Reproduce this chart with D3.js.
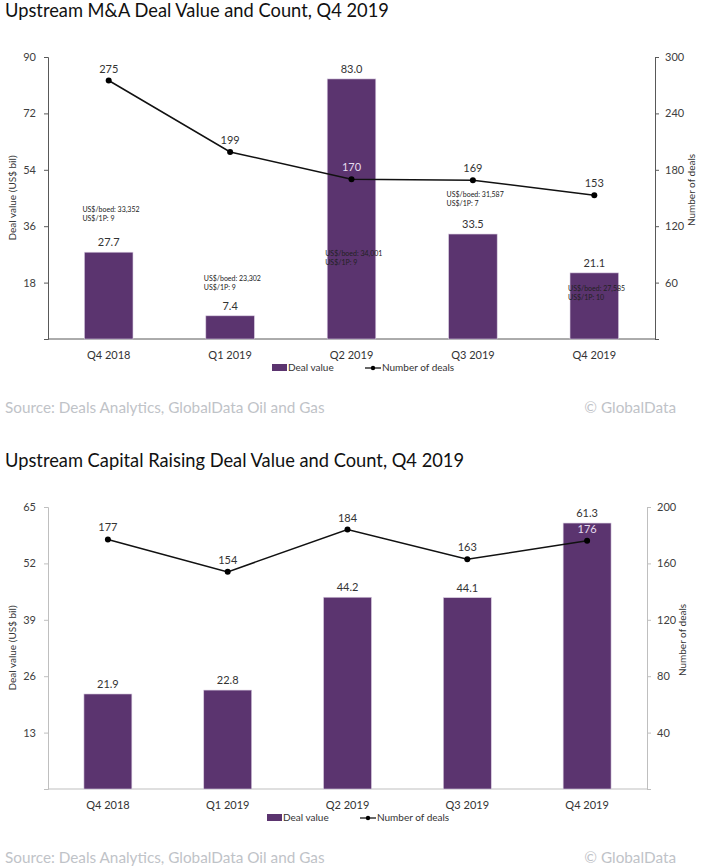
<!DOCTYPE html>
<html>
<head>
<meta charset="utf-8">
<script src="https://cdn.jsdelivr.net/npm/d3@7"></script>
<style>
    body { margin: 0; background: #fff; }
    svg text { font-family: Lato, "Open Sans", sans-serif; }
</style>
</head>
<body>
<div class="container"></div>
<script>
var quarters = ["Q4 2018", "Q1 2019", "Q2 2019", "Q3 2019", "Q4 2019"];

// M&A
var maValue = [27.7, 7.4, 83.0, 33.5, 21.1];
var maCount = [275, 199, 170, 169, 153];
var maBoed = ["33,352", "23,302", "34,001", "31,587", "27,585"];
var ma1P = ["9", "9", "9", "7", "10"];
var maValueTicks = [18, 36, 54, 72, 90];
var maCountTicks = [60, 120, 180, 240, 300];

// capital raising
var crValue = [21.9, 22.8, 44.2, 44.1, 61.3];
var crCount = [177, 154, 184, 163, 176];
var crValueTicks = [13, 26, 39, 52, 65];
var crCountTicks = [40, 80, 120, 160, 200];

// where the small US$/boed notes sit, in deal value units (layout only)
var maNoteAt = [40.5, 18.5, 26.5, 45.3, 15.3];

var WIDTH = 707, HEIGHT = 867;
var BAR_COLOR = '#5b346f';

var svg = d3.select(".container")
    .append("svg")
    .attr("width", WIDTH)
    .attr("height", HEIGHT);

function drawChart(opt) {
    var g = svg.append('g');

    g.append('text')
        .attr('x', 5)
        .attr('y', opt.top - 40)
        .attr('font-size', 18.3)
        .attr('fill', '#111')
        .text(opt.title);

    var x = d3.scaleBand().domain(quarters).range([opt.left, opt.right]).paddingInner(0.6).paddingOuter(0.3);
    var y = d3.scaleLinear().domain([0, opt.valueTicks[opt.valueTicks.length - 1]]).range([opt.bottom, opt.top]);
    var y2 = d3.scaleLinear().domain([0, opt.countTicks[opt.countTicks.length - 1]]).range([opt.bottom, opt.top]);

    // axes
    var leftAxis = g.append('g')
        .attr('transform', 'translate(' + opt.left + ',0)')
        .call(d3.axisLeft(y).tickValues([0].concat(opt.valueTicks)).tickSize(4).tickPadding(8).tickFormat(function (d) { return d === 0 ? '' : d; }));
    var rightAxis = g.append('g')
        .attr('transform', 'translate(' + opt.right + ',0)')
        .call(d3.axisRight(y2).tickValues([0].concat(opt.countTicks)).tickSize(4).tickPadding(6).tickFormat(function (d) { return d === 0 ? '' : d; }));
    [leftAxis, rightAxis].forEach(function (a) {
        a.select('.domain').attr('stroke', opt.axisColor);
        a.selectAll('.tick line').attr('stroke', opt.axisColor);
        a.selectAll('.tick text').attr('fill', '#404040').attr('font-size', 11)
            .style('font-family', 'Lato, sans-serif');
    });

    g.append('line')
        .attr('x1', opt.left).attr('x2', opt.right)
        .attr('y1', opt.bottom).attr('y2', opt.bottom)
        .attr('stroke', opt.axisColor);

    g.selectAll('.cat')
        .data(quarters)
        .enter()
        .append('text')
        .attr('x', function (d) { return x(d) + x.bandwidth() / 2; })
        .attr('y', opt.bottom + 20)
        .attr('text-anchor', 'middle')
        .attr('font-size', 11)
        .attr('fill', '#333')
        .text(function (d) { return d; });

    // axis titles
    g.append('text')
        .attr('transform', 'translate(' + 16 + ',' + (opt.top + opt.bottom) / 2 + ') rotate(-90)')
        .attr('text-anchor', 'middle')
        .attr('font-size', 10)
        .attr('fill', '#333')
        .text('Deal value (US$ bil)');
    g.append('text')
        .attr('transform', 'translate(' + opt.rightTitleX + ',' + ((opt.top + opt.bottom) / 2 - 8) + ') rotate(-90)')
        .attr('text-anchor', 'middle')
        .attr('font-size', 10)
        .attr('fill', '#333')
        .text('Number of deals');

    // bars
    g.selectAll('.bar')
        .data(opt.values)
        .enter()
        .append('rect')
        .attr('x', function (d, i) { return x(quarters[i]); })
        .attr('y', function (d) { return y(d); })
        .attr('width', x.bandwidth())
        .attr('height', function (d) { return opt.bottom - y(d); })
        .attr('fill', BAR_COLOR)
        .attr('stroke', '#d8cce0')
        .attr('stroke-width', 0.6);

    g.selectAll('.bar-label')
        .data(opt.values)
        .enter()
        .append('text')
        .attr('x', function (d, i) { return x(quarters[i]) + x.bandwidth() / 2; })
        .attr('y', function (d) { return y(d) - 6; })
        .attr('text-anchor', 'middle')
        .attr('font-size', 11)
        .attr('fill', '#333')
        .text(function (d) { return d.toFixed(1); });

    // notes
    if (opt.notes) {
        opt.notes.forEach(function (n, i) {
            var t = g.append('text')
                .attr('x', x(quarters[i]) - 2)
                .attr('y', y(opt.noteAt[i]))
                .attr('font-size', 7)
                .attr('fill', '#222');
            t.append('tspan').attr('x', x(quarters[i]) - 2).text('US$/boed: ' + n[0]);
            t.append('tspan').attr('x', x(quarters[i]) - 2).attr('dy', 9).text('US$/1P: ' + n[1]);
        });
    }

    // line
    var line = d3.line()
        .x(function (d, i) { return x(quarters[i]) + x.bandwidth() / 2; })
        .y(function (d) { return y2(d); });

    g.append('path')
        .datum(opt.counts)
        .attr('d', line)
        .attr('fill', 'none')
        .attr('stroke', '#111')
        .attr('stroke-width', 1.5);

    g.selectAll('.dot')
        .data(opt.counts)
        .enter()
        .append('circle')
        .attr('cx', function (d, i) { return x(quarters[i]) + x.bandwidth() / 2; })
        .attr('cy', function (d) { return y2(d); })
        .attr('r', 3)
        .attr('fill', '#000');

    g.selectAll('.count-label')
        .data(opt.counts)
        .enter()
        .append('text')
        .attr('x', function (d, i) { return x(quarters[i]) + x.bandwidth() / 2; })
        .attr('y', function (d) { return y2(d) - 8; })
        .attr('text-anchor', 'middle')
        .attr('font-size', 11)
        .attr('fill', function (d, i) {
            // light text where the label sits on a bar
            return y2(d) - 14 > y(opt.values[i]) ? '#e6dcee' : '#333';
        })
        .text(function (d) { return d; });

    // legend
    var ly = opt.bottom + 29;
    var lx = opt.legendX;
    g.append('rect')
        .attr('x', lx).attr('y', ly - 4)
        .attr('width', 15).attr('height', 7)
        .attr('fill', BAR_COLOR);
    g.append('text')
        .attr('x', lx + 16).attr('y', ly + 3)
        .attr('font-size', 10).attr('fill', '#333')
        .text('Deal value');
    g.append('line')
        .attr('x1', lx + 93).attr('x2', lx + 109)
        .attr('y1', ly).attr('y2', ly)
        .attr('stroke', '#000').attr('stroke-width', 1.2);
    g.append('circle')
        .attr('cx', lx + 101).attr('cy', ly).attr('r', 2.2).attr('fill', '#000');
    g.append('text')
        .attr('x', lx + 110).attr('y', ly + 3)
        .attr('font-size', 10).attr('fill', '#333')
        .text('Number of deals');

    // source
    g.append('text')
        .attr('x', 5).attr('y', opt.sourceY)
        .attr('font-size', 15.3).attr('fill', '#bfc3c8')
        .text('Source: Deals Analytics, GlobalData Oil and Gas');
    g.append('text')
        .attr('x', 676).attr('y', opt.sourceY)
        .attr('text-anchor', 'end')
        .attr('font-size', 15.3).attr('fill', '#bfc3c8')
        .text('© GlobalData');
}

drawChart({
    title: 'Upstream M&A Deal Value and Count, Q4 2019',
    top: 57, bottom: 339, left: 48, right: 655,
    values: maValue, counts: maCount,
    valueTicks: maValueTicks, countTicks: maCountTicks,
    notes: maBoed.map(function (b, i) { return [b, ma1P[i]]; }),
    noteAt: maNoteAt,
    axisColor: '#595959',
    rightTitleX: 695,
    legendX: 272,
    sourceY: 413
});

drawChart({
    title: 'Upstream Capital Raising Deal Value and Count, Q4 2019',
    top: 507, bottom: 789, left: 48, right: 647,
    values: crValue, counts: crCount,
    valueTicks: crValueTicks, countTicks: crCountTicks,
    axisColor: '#bfbfbf',
    rightTitleX: 686,
    legendX: 267,
    sourceY: 863
});
</script>
</body>
</html>
